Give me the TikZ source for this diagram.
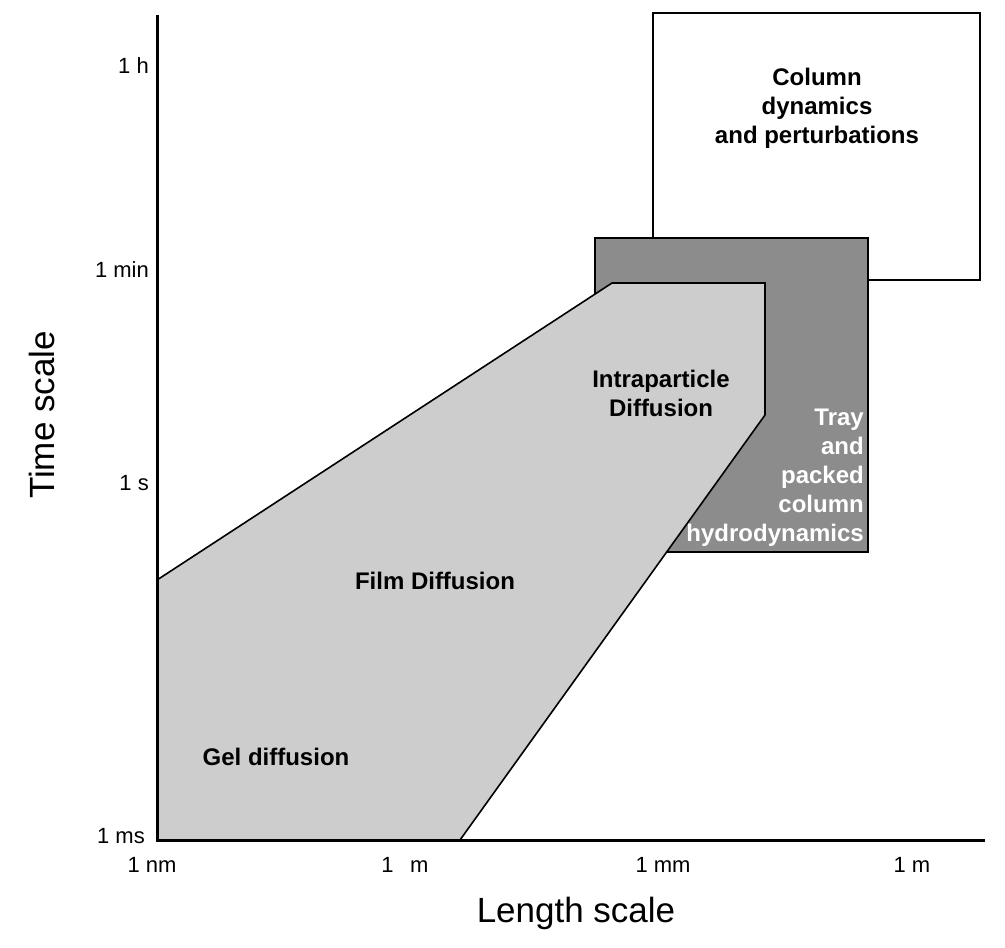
\documentclass[tikz,border=0pt]{standalone}
\usepackage{fontspec}
\setmainfont{Liberation Sans}
\begin{document}
\begin{tikzpicture}[x=1pt,y=-1pt,
  tick/.style={font=\fontsize{22}{26}\selectfont, inner sep=0pt},
  lab/.style={font=\fontsize{24}{29}\selectfont\bfseries, align=center, inner sep=0pt},
  big/.style={font=\fontsize{35}{40}\selectfont, inner sep=0pt},
  axisline/.style={line width=3pt},
  region/.style={draw=black, line width=1.6pt}]
\useasboundingbox[fill=white] (0,0) rectangle (1005,948);
% regions
\draw[region, fill=white] (653,13) rectangle (980,280);
\draw[region, fill={rgb,255:red,140;green,140;blue,140}] (595,238) rectangle (868,552);
\draw[region, fill={rgb,255:red,205;green,205;blue,205}]
  (157,580) -- (612,283) -- (765,283) -- (765,415) -- (460,840) -- (157,840) -- cycle;
% axes
\coordinate (O) at (157,840);
\coordinate (Ytop) at (157,15);
\coordinate (Xend) at (985,840);
\draw[axisline] (Ytop) -- (O) -- (Xend);
% y ticks
\node[tick, anchor=east] (th) at (149,66) {1 h};
\node[tick, anchor=east] (tmin) at (149,270) {1 min};
\node[tick, anchor=east] (ts) at (149,483) {1 s};
\node[tick, anchor=east] (tms) at (145,836) {1 ms};
% x ticks
\node[tick] (tnm) at (152,865) {1 nm};
\node[tick] (tum) at (405,865) {1\hspace{0.75em}m};
\node[tick] (tmm) at (663,865) {1 mm};
\node[tick] (tm) at (912,865) {1 m};
% axis titles
\node[big] (xl) at (576,913) {Length scale};
\node[big, rotate=90] (yl) at (42,415) {Time scale};
% region labels
\node[lab] (col) at (817,108) {Column\\dynamics\\and perturbations};
\node[lab] (intra) at (661,393) {Intraparticle\\Diffusion};
\node[lab, text=white, align=right, anchor=east] (tray) at (864,478) {Tray\\and\\packed\\column\\hydrodynamics};
\node[lab] (film) at (435,581) {Film Diffusion};
\node[lab] (gel) at (276,757) {Gel diffusion};
\end{tikzpicture}
\end{document}
